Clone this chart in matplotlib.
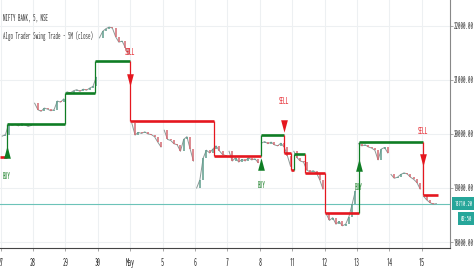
import os

import matplotlib.pyplot as plt
import numpy as np
from matplotlib.font_manager import FontProperties

# day labels on the time axis, 10 bars per day (last day partial)
days = ["27", "28", "29", "30", "May", "5", "6", "7", "8", "11", "12", "13", "14", "15"]
bars_per_day = 10

closes = [
    19960, 19990, 20190, 20160, 20180, 20150, 20190, 20170, 20140, 20160,  # 27
    20570, 20450, 20420, 20480, 20460, 20430, 20450, 20610, 20590, 20650,  # 28
    20780, 20760, 20800, 20820, 20790, 20830, 20810, 20850, 20880, 21050,  # 29
    21780, 21900, 21950, 21980, 21960, 21800, 21700, 21720, 21600, 21480,  # 30
    20200, 19980, 20030, 20010, 20040, 20000, 19990, 19950, 19850, 19760,  # May
    20070, 19900, 19880, 19820, 19800, 19680, 19900, 19950, 19720, 19500,  # 5
    19000, 19150, 19550, 19700, 19650, 19720, 19780, 19690, 19620, 19600,  # 6
    19680, 19500, 19560, 19480, 19530, 19500, 19560, 19520, 19540, 19470,  # 7
    19830, 19860, 19820, 19850, 19800, 19780, 19830, 19760, 19600, 19400,  # 8
    19680, 19560, 19500, 19480, 19330, 19300, 19320, 19280, 19150, 18980,  # 11
    18520, 18400, 18450, 18330, 18380, 18300, 18330, 18470, 18700, 18950,  # 12
    19820, 19780, 19800, 19760, 19740, 19700, 19520, 19720, 19750, 19650,  # 13
    19250, 19180, 19200, 19250, 19280, 19260, 19200, 19160, 19100, 18980,  # 14
    18850, 18780, 18730, 18700, 18710.2,                                   # 15
]
last_price = "18710.20"
countdown = "02:50"
price_ticks = [18000, 19000, 20000, 21000, 22000]

# swing stepline: segment edges (bar units), level and trend of each segment
step_edges = [-0.7, 1.5, 19.5, 28.5, 39.5, 65.5, 80, 87, 89, 90, 93.5, 99.5, 110, 130, 134.5]
step_levels = [19575, 20185, 20760, 21350, 20240, 19595, 19980, 19650, 19330, 19630,
               19280, 18540, 19850, 18870]
step_up = [False, True, True, True, False, False, True, False, False, True,
           False, False, True, False]

# buy / sell signals
signal_x = [1.5, 39.5, 80, 87, 110, 130]
signal_kind = ["BUY", "SELL", "BUY", "SELL", "BUY", "SELL"]
signal_arrow = [19667, 21000, 19444, 20148, 19426, 19519]
signal_text = [19204, 21500, 19037, 20593, 19000, 20037]

GREEN = "#0f7d24"
RED = "#e5171f"
TEAL = "#26a69a"

NARROW_FILE = "/usr/share/fonts/truetype/google-fonts/Inconsolata-UltraCondensedRegular.ttf"


def fp(size):
    if os.path.exists(NARROW_FILE):
        return FontProperties(fname=NARROW_FILE, size=size)
    return FontProperties(family="Roboto Condensed", size=size * 0.7)


fig = plt.figure(figsize=(4.74, 2.79), dpi=100)
ax = fig.add_axes([0, 31 / 279, 450 / 474, 248 / 279])

closes = np.asarray(closes, dtype=float)
x = np.arange(len(closes))

# grid
for lv in price_ticks:
    ax.axhline(lv, color="#edf0f2", lw=0.8, zorder=0)
for d in range(len(days)):
    ax.axvline(d * bars_per_day - 0.5, color="#edf0f2", lw=0.8, zorder=0)

# price: one line per session, small bodies from previous close
for d in range(len(days)):
    sl = slice(d * bars_per_day, (d + 1) * bars_per_day)
    xs = x[sl]
    cs = closes[sl]
    ax.plot(xs, cs, color="#8c9896", lw=0.7, zorder=2)
    opens = np.r_[cs[0], cs[:-1]]
    cols = np.where(cs >= opens, "#5e9c8c", "#d46a72")
    ax.vlines(xs, opens, cs, colors=cols, lw=1.1, zorder=2)

# stepline
for i in range(len(step_levels)):
    c = GREEN if step_up[i] else RED
    ax.hlines(step_levels[i], step_edges[i], step_edges[i + 1], color=c, lw=1.9, zorder=3)
    if i > 0:
        ax.vlines(step_edges[i], step_levels[i - 1], step_levels[i], color=c, lw=0.9, zorder=3)

# signals
tri_up = [(-0.27, -0.5), (0.27, -0.5), (0, 0.5)]
tri_dn = [(-0.27, 0.5), (0.27, 0.5), (0, -0.5)]
for sx, kind, ya, yt in zip(signal_x, signal_kind, signal_arrow, signal_text):
    if kind == "BUY":
        ax.plot(sx, ya, marker=tri_up, ms=9, color=GREEN, mec="none", zorder=4)
        ax.text(sx, yt, kind, color="#2e8b3a", fontproperties=fp(7.5),
                ha="center", va="center", zorder=4)
    else:
        ax.plot(sx, ya, marker=tri_dn, ms=9, color=RED, mec="none", zorder=4)
        ax.text(sx, yt, kind, color=RED, fontproperties=fp(7.5),
                ha="center", va="center", zorder=4)

# last price line and labels
ax.axhline(closes[-1], color="#6cc3b8", lw=0.8, zorder=1)
ax.annotate(last_price, xy=(1.01, closes[-1]), xycoords=("axes fraction", "data"),
            fontproperties=fp(6.5), color="white", va="center", ha="left",
            bbox=dict(boxstyle="square,pad=0.3", fc=TEAL, ec="none"))
ax.annotate(countdown, xy=(1.025, 18430), xycoords=("axes fraction", "data"),
            fontproperties=fp(6.5), color="white", va="center", ha="left",
            bbox=dict(boxstyle="square,pad=0.35", fc=TEAL, ec="none"))

# axes
ax.set_xlim(-0.69, 138.2)
ax.set_ylim(17889, 22481)
ax.set_xticks([d * bars_per_day - 0.5 for d in range(len(days))])
ax.set_xticklabels(days)
ax.set_yticks(price_ticks)
ax.set_yticklabels([f"{p:.2f}" for p in price_ticks])
ax.yaxis.tick_right()
ax.tick_params(axis="x", length=2.5, width=0.6, color="#999999",
               labelcolor="#333333", pad=5)
ax.tick_params(axis="y", length=2, width=0.6, color="#999999",
               labelcolor="#333333", pad=1)
for lab in ax.get_xticklabels():
    lab.set_fontproperties(fp(8.5))
for lab in ax.get_yticklabels():
    lab.set_fontproperties(fp(7))
for s in ["top", "left"]:
    ax.spines[s].set_visible(False)
ax.spines["bottom"].set_color("#444444")
ax.spines["bottom"].set_linewidth(0.8)
ax.spines["right"].set_color("#888888")
ax.spines["right"].set_linewidth(0.8)

fig.text(3 / 474, 1 - 18 / 279, "NIFTY BANK, 5, NSE", fontproperties=fp(7),
         color="#333333", va="center")
fig.text(3 / 474, 1 - 36 / 279, "Algo Trader Swing Trade - 5M (close)",
         fontproperties=fp(7), color="#444444", va="center")

fig.savefig("out.png", dpi=100)
